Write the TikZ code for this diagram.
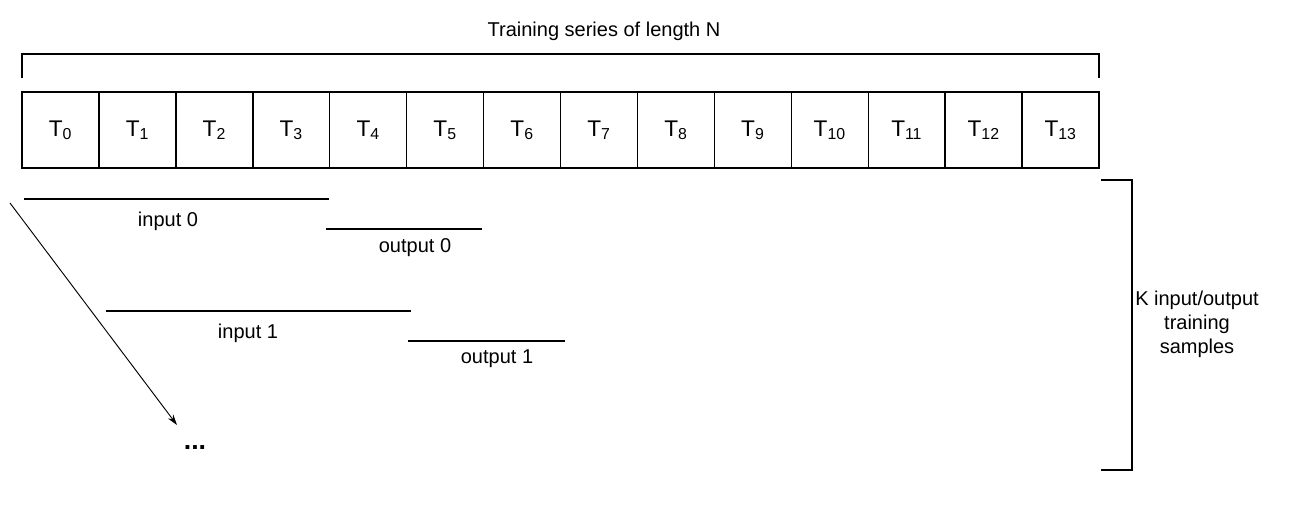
\documentclass[tikz,border=0pt]{standalone}
\usepackage{fontspec}
\setmainfont{Liberation Sans}
\usepackage{tikz}
\usetikzlibrary{arrows.meta,calc,positioning}

\tikzset{
  cell/.style={draw,line width=1.1pt,minimum width=57.7pt,minimum height=57pt,inner sep=0pt,font=\fontsize{17}{20}\selectfont},
  span/.style={line width=1.1pt},
  spanlabel/.style={font=\fontsize{15}{18}\selectfont,inner sep=1pt}
}

\begin{document}
\begin{tikzpicture}[>={Stealth[length=8pt,width=5pt]},x=0.75pt,y=-0.75pt]
      \useasboundingbox (0,0) rectangle (1295,512);
      \node[spanlabel] (title) at (604,31) {Training series of length N};
      \draw[span] (22,78) -- (22,54) -- (1099,54) -- (1099,78);
      \foreach \i in {0,...,13}
         \node[cell] (t\i) at (60.5+76.93*\i,130) {T\textsubscript{\i}};
      % input / output windows
      \coordinate (in0a) at (24,199);   \coordinate (in0b) at (329,199);
      \coordinate (out0a) at (326,229); \coordinate (out0b) at (482,229);
      \coordinate (in1a) at (106,311);  \coordinate (in1b) at (411,311);
      \coordinate (out1a) at (408,341); \coordinate (out1b) at (565,341);
      \draw[span] (in0a) -- (in0b);
      \draw[span] (out0a) -- (out0b);
      \draw[span] (in1a) -- (in1b);
      \draw[span] (out1a) -- (out1b);
      \node[spanlabel] (lin0) at (168,221) {input 0};
      \node[spanlabel] (lout0) at (415,248) {output 0};
      \node[spanlabel] (lin1) at (248,333) {input 1};
      \node[spanlabel] (lout1) at (497,359) {output 1};
      \node[font=\fontsize{20}{22}\selectfont\bfseries] (dots) at (195,448) {...};
      \coordinate (start) at (10,203);
      \draw[->,line width=0.7pt] (start) -- (177,425);
      % samples bracket
      \draw[span] (1101,180) -- (1132,180) -- (1132,470) -- (1101,470);
      \node[spanlabel,align=center] (samples) at (1197,324) {K input/output\\training\\samples};
   \end{tikzpicture}
\end{document}
